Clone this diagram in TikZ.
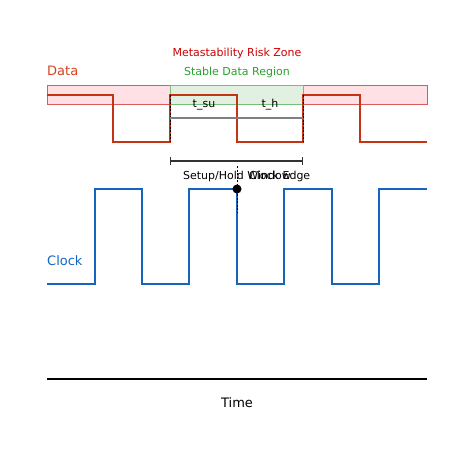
\documentclass[tikz,border=0pt]{standalone}
\usepackage{fontspec}
\setmainfont{DejaVu Sans}
\definecolor{dataline}{RGB}{196,52,18}
\definecolor{datalbl}{RGB}{214,64,30}
\definecolor{riskred}{RGB}{204,0,0}
\definecolor{riskfill}{RGB}{255,218,222}
\definecolor{riskdraw}{RGB}{222,90,90}
\definecolor{stabgreen}{RGB}{44,160,44}
\definecolor{stabfill}{RGB}{218,236,218}
\definecolor{stabdraw}{RGB}{120,190,120}
\definecolor{clk}{RGB}{21,101,192}
\tikzset{
  lbl/.style={inner sep=0pt, font=\fontsize{11}{13}\selectfont},
  biglbl/.style={inner sep=0pt, font=\fontsize{13}{15}\selectfont},
  riskbox/.style={fill=riskfill, draw=riskdraw, line width=1pt, fill opacity=0.8},
  stabbox/.style={fill=stabfill, draw=stabdraw, line width=1pt, fill opacity=0.8},
  datawave/.style={draw=dataline, line width=1.5pt},
  clkwave/.style={draw=clk, line width=1.8pt},
  guide/.style={draw=black, dashed, line width=0.8pt, dash pattern=on 2pt off 1.5pt},
  gray line/.style={draw=gray, line width=1.2pt},
  window/.style={draw=black!80, line width=1.2pt, |-|},
}
\begin{document}
\begin{tikzpicture}[x=1pt,y=-1pt]
\useasboundingbox (0,0) rectangle (474,474);
% zones
\path[riskbox] (47,85) rectangle (170,104);
\path[riskbox] (303,85) rectangle (427,104);
\path[stabbox] (170,85) rectangle (303,104);
% data waveform
\path[datawave] (47,95) -- (113,95) -- (113,142) -- (170,142) -- (170,95) -- (237,95) -- (237,142) -- (303,142) -- (303,95) -- (360,95) -- (360,142) -- (427,142);
% setup/hold guides
\coordinate (su top) at (170,95);
\coordinate (su bot) at (170,142);
\coordinate (h top) at (303,95);
\coordinate (h bot) at (303,142);
\draw[guide] (su top) -- (su bot);
\draw[guide] (h top) -- (h bot);
\coordinate (g1) at (170,118);
\coordinate (g2) at (303,118);
\draw[gray line] (g1) -- (g2);
\node[lbl] (tsu) at (204,105) {t\_su};
\node[lbl] (th) at (270,105) {t\_h};
% window bracket
\coordinate (w1) at (170,161);
\coordinate (w2) at (303,161);
\draw[window] (w1) -- (w2);
\node[lbl] (win) at (237,176) {Setup/Hold Window};
\node[lbl, anchor=west] (edge) at (249,176) {Clock Edge};
% clock waveform
\path[clkwave] (47,284) -- (95,284) -- (95,189) -- (142,189) -- (142,284) -- (189,284) -- (189,189) -- (237,189) -- (237,284) -- (284,284) -- (284,189) -- (332,189) -- (332,284) -- (379,284) -- (379,189) -- (427,189);
\coordinate (e top) at (237,166);
\coordinate (e bot) at (237,213);
\draw[guide] (e top) -- (e bot);
\node[circle, fill=black, inner sep=0pt, minimum size=9pt] (dot) at (237,189) {};
% labels
\node[lbl, text=riskred] (risk) at (237,53) {Metastability Risk Zone};
\node[lbl, text=stabgreen] (stab) at (237,72) {Stable Data Region};
\node[biglbl, text=datalbl, anchor=west] (datal) at (47,71) {Data};
\node[biglbl, text=clk, anchor=west] (clkl) at (47,261) {Clock};
% time axis
\coordinate (ax1) at (47,379);
\coordinate (ax2) at (427,379);
\draw[black, line width=1.8pt] (ax1) -- (ax2);
\node[biglbl] (time) at (237,403) {Time};
\end{tikzpicture}
\end{document}
